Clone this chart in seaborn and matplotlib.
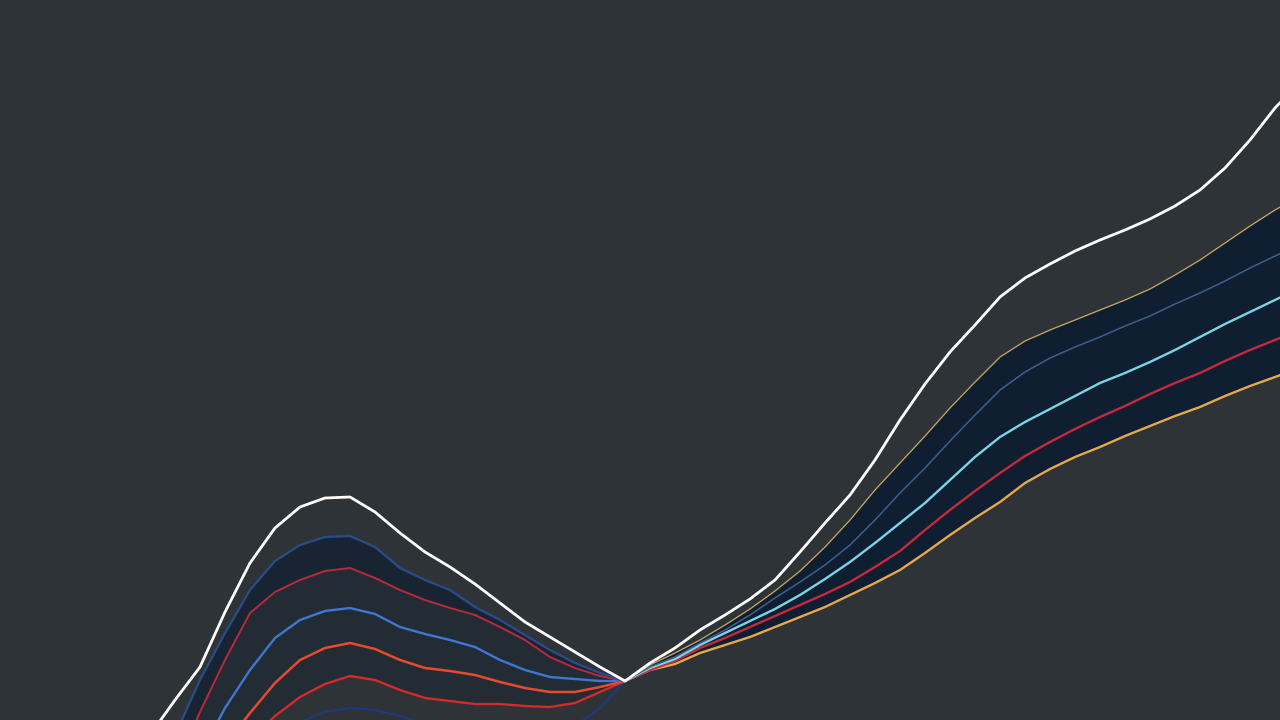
import seaborn as sns
import matplotlib.pyplot as plt
import numpy as np
import pandas as pd

# time steps (left part: history fan, right part: forecast fan)
t_left = list(range(6, 26))
t_right = list(range(25, 53))

# white reference line, split at the meeting point t=25
white_left = [-1.5, 2.0, 5.3, 10.8, 15.7, 19.2, 21.3, 22.2, 22.3, 20.8,
              18.7, 16.8, 15.3, 13.6, 11.7, 9.8, 8.3, 6.8, 5.3, 3.9]
white_right = [3.9, 5.7, 7.2, 9.0, 10.5, 12.1, 14.0, 16.8, 19.7, 22.5,
               26.0, 30.0, 33.6, 36.8, 39.5, 42.3, 44.2, 45.6, 46.9, 48.0,
               49.0, 50.1, 51.4, 53.0, 55.2, 58.0, 61.2, 63.8]

# left fan
navy_l = [-7.0, -1.5, 4.0, 8.7, 13.0, 15.9, 17.5, 18.3, 18.4, 17.3,
          15.2, 14.0, 13.0, 11.3, 10.0, 8.5, 7.0, 5.7, 4.7, 3.9]
crimson_l = [-12.0, -5.0, 0.8, 6.0, 10.7, 12.8, 14.0, 14.9, 15.2, 14.2,
             13.0, 12.0, 11.2, 10.5, 9.3, 8.0, 6.3, 5.2, 4.4, 3.9]
blue_l = [-20.0, -12.0, -3.5, 1.2, 5.0, 8.2, 10.0, 10.9, 11.2, 10.6,
          9.3, 8.6, 8.0, 7.3, 6.0, 5.0, 4.3, 4.1, 3.9, 3.9]
orange_red_l = [-30.0, -20.0, -10.0, -2.5, 0.7, 3.7, 6.0, 7.2, 7.7, 7.1,
                6.0, 5.2, 4.9, 4.5, 3.8, 3.2, 2.8, 2.8, 3.3, 3.9]
red_l = [-20.0, -12.0, -7.0, -4.0, -2.0, 0.4, 2.3, 3.6, 4.4, 4.0,
         3.0, 2.2, 1.9, 1.6, 1.6, 1.4, 1.3, 1.7, 2.8, 3.9]
deep_blue_l = [-25.0, -18.0, -12.0, -7.0, -4.0, -1.8, -0.2, 0.8, 1.2, 1.0,
               0.4, -0.4, -1.5, -2.0, -2.2, -2.0, -1.5, -0.6, 1.2, 3.9]

# right fan
gold_r = [3.9, 5.5, 6.7, 8.0, 9.5, 11.1, 12.9, 14.9, 17.3, 20.0,
          23.0, 25.7, 28.4, 31.2, 33.8, 36.3, 37.9, 39.0, 40.0, 41.0,
          42.0, 43.1, 44.5, 46.0, 47.7, 49.4, 51.0, 52.4]
slate_r = [3.9, 5.3, 6.3, 7.7, 9.0, 10.5, 12.2, 13.8, 15.5, 17.5,
           20.0, 22.7, 25.2, 27.9, 30.5, 33.0, 34.8, 36.2, 37.3, 38.3,
           39.4, 40.4, 41.6, 42.7, 43.9, 45.2, 46.4, 47.6]
cyan_r = [3.9, 5.2, 6.1, 7.5, 8.7, 9.9, 11.1, 12.5, 14.1, 15.8,
          17.7, 19.7, 21.7, 24.0, 26.3, 28.3, 29.8, 31.1, 32.4, 33.7,
          34.7, 35.8, 37.0, 38.3, 39.6, 40.8, 42.0, 43.2]
red_r = [3.9, 5.0, 5.9, 7.2, 8.2, 9.3, 10.4, 11.5, 12.6, 13.8,
         15.3, 16.9, 19.0, 21.0, 22.9, 24.7, 26.4, 27.8, 29.1, 30.3,
         31.4, 32.6, 33.7, 34.7, 35.9, 37.0, 38.0, 39.0]
orange_r = [3.9, 5.0, 5.6, 6.7, 7.5, 8.3, 9.3, 10.3, 11.3, 12.5,
            13.7, 15.0, 16.7, 18.5, 20.2, 21.8, 23.7, 25.1, 26.3, 27.3,
            28.4, 29.4, 30.4, 31.3, 32.4, 33.4, 34.3, 35.2]

bg = '#2e3338'
band = '#0b1b30'

sns.set_theme(style='dark', rc={'axes.facecolor': bg, 'figure.facecolor': bg,
                                'lines.solid_joinstyle': 'round',
                                'lines.solid_capstyle': 'round'})

fig = plt.figure(figsize=(12.8, 7.2), dpi=100)
ax = fig.add_axes([0, 0, 1, 1])

# shaded bands
ax.fill_between(t_left, navy_l, crimson_l, color=band, alpha=0.6, lw=0)
ax.fill_between(t_left, crimson_l, red_l, color=band, alpha=0.3, lw=0)
ax.fill_between(t_right, gold_r, orange_r, color=band, alpha=0.85, lw=0)

# left fan lines
left_lines = [
    (deep_blue_l, '#1f3a7a', 1.6),
    (red_l, '#d42a2a', 1.7),
    (orange_red_l, '#ea4a2c', 1.8),
    (blue_l, '#3f78d0', 1.7),
    (crimson_l, '#b82a3c', 1.4),
    (navy_l, '#2b4c8a', 1.6),
]
for ys, col, lw in left_lines:
    sns.lineplot(x=t_left, y=ys, color=col, lw=lw, ax=ax)

# right fan lines
right_lines = [
    (orange_r, '#e8a94c', 1.7),
    (red_r, '#c42a3a', 1.7),
    (cyan_r, '#7ad6e6', 1.7),
    (slate_r, '#3e5e8e', 1.1),
    (gold_r, '#c9a860', 0.9),
]
for ys, col, lw in right_lines:
    sns.lineplot(x=t_right, y=ys, color=col, lw=lw, ax=ax)

# white reference line
sns.lineplot(x=t_left, y=white_left, color='white', lw=2.0, ax=ax)
sns.lineplot(x=t_right, y=white_right, color='white', lw=2.0, ax=ax)

ax.set_xlim(0, 51.2)
ax.set_ylim(0, 72)
ax.set_axis_off()

plt.savefig('out.png', dpi=100, facecolor=bg)
